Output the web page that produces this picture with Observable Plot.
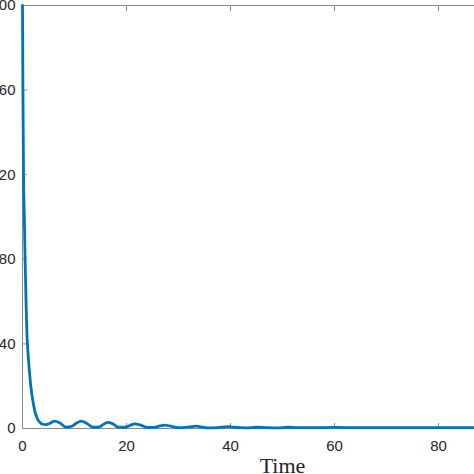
<!DOCTYPE html>
<html>
<head>
<meta charset="utf-8">
<script src="https://cdn.jsdelivr.net/npm/d3@7"></script>
<script src="https://cdn.jsdelivr.net/npm/@observablehq/plot@0.6"></script>
<style>
  html, body { margin: 0; padding: 0; background: #fff; overflow: hidden; width: 474px; height: 474px; }
  #chart svg { max-width: none !important; overflow: visible; display: block; }
</style>
</head>
<body>
<div id="chart"></div>
<script>
const time = [0, 0.08, 0.2, 0.35, 0.5, 0.7, 0.85, 1.0, 1.3, 1.6, 2.0, 2.4, 2.8, 3.3, 3.9, 4.5, 5.3, 6.2, 7.2, 8.4, 9.6, 10.4, 11.3, 12.3, 13.6, 14.8, 15.6, 16.4, 17.3, 18.5, 19.8, 20.8, 21.6, 22.6, 24, 25.4, 26.4, 27.4, 28.5, 30, 31.5, 32.5, 33.4, 34.5, 36, 37.5, 38.7, 39.7, 41, 43, 45, 47, 49, 51, 53, 56, 60, 65, 70, 75, 80, 90, 100];
const value = [200, 160, 120, 100, 80, 58, 45, 38, 28, 20, 13, 8, 5, 3, 2, 1.8, 2.5, 3.5, 2.6, 0.6, 1.2, 2.6, 3.5, 2.5, 0.6, 0.8, 2, 2.9, 2.3, 0.6, 0.6, 1.6, 2.2, 1.7, 0.5, 0.5, 1.2, 1.6, 1.1, 0.4, 0.5, 0.9, 1.1, 0.7, 0.3, 0.4, 0.8, 0.9, 0.5, 0.3, 0.6, 0.4, 0.3, 0.6, 0.4, 0.4, 0.5, 0.4, 0.4, 0.4, 0.4, 0.4, 0.4];
const xTicks = [0, 20, 40, 60, 80, 100];
const yTicks = [0, 40, 80, 120, 160, 200];
const xLabel = "Time";

const data = time.map((t, i) => ({t, v: value[i]}));
const axisColor = "#8a8a8a";
const textColor = "#262626";

const chart = Plot.plot({
  width: 600,
  height: 480,
  marginLeft: 22,
  marginRight: 58,
  marginTop: 5,
  marginBottom: 52,
  style: {fontFamily: "'Liberation Sans', Arial, sans-serif", fontSize: "15px", color: textColor, background: "#fff"},
  x: {domain: [0, 100]},
  y: {domain: [0, 200]},
  marks: [
    Plot.frame({stroke: axisColor, strokeWidth: 1}),
    Plot.axisX({anchor: "bottom", ticks: xTicks, tickSize: -5, tickPadding: 17, stroke: axisColor, label: null, fontSize: 15, fill: textColor}),
    Plot.axisX({anchor: "top", ticks: xTicks, tickSize: -5, tickFormat: () => null, stroke: axisColor, label: null}),
    Plot.axisY({anchor: "left", ticks: yTicks, tickSize: -5, tickPadding: 12, stroke: axisColor, label: null, fontSize: 15, fill: textColor}),
    Plot.axisY({anchor: "right", ticks: yTicks, tickSize: -5, tickFormat: () => null, stroke: axisColor, label: null}),
    Plot.line(data, {x: "t", y: "v", stroke: "#0072BD", strokeWidth: 2.8, curve: "monotone-x"}),
    Plot.text([xLabel], {frameAnchor: "bottom", dy: 44, lineAnchor: "bottom", fontFamily: "'Liberation Serif', 'DejaVu Serif', serif", fontSize: 22, fill: textColor})
  ]
});
document.getElementById("chart").appendChild(chart);
</script>
</body>
</html>
